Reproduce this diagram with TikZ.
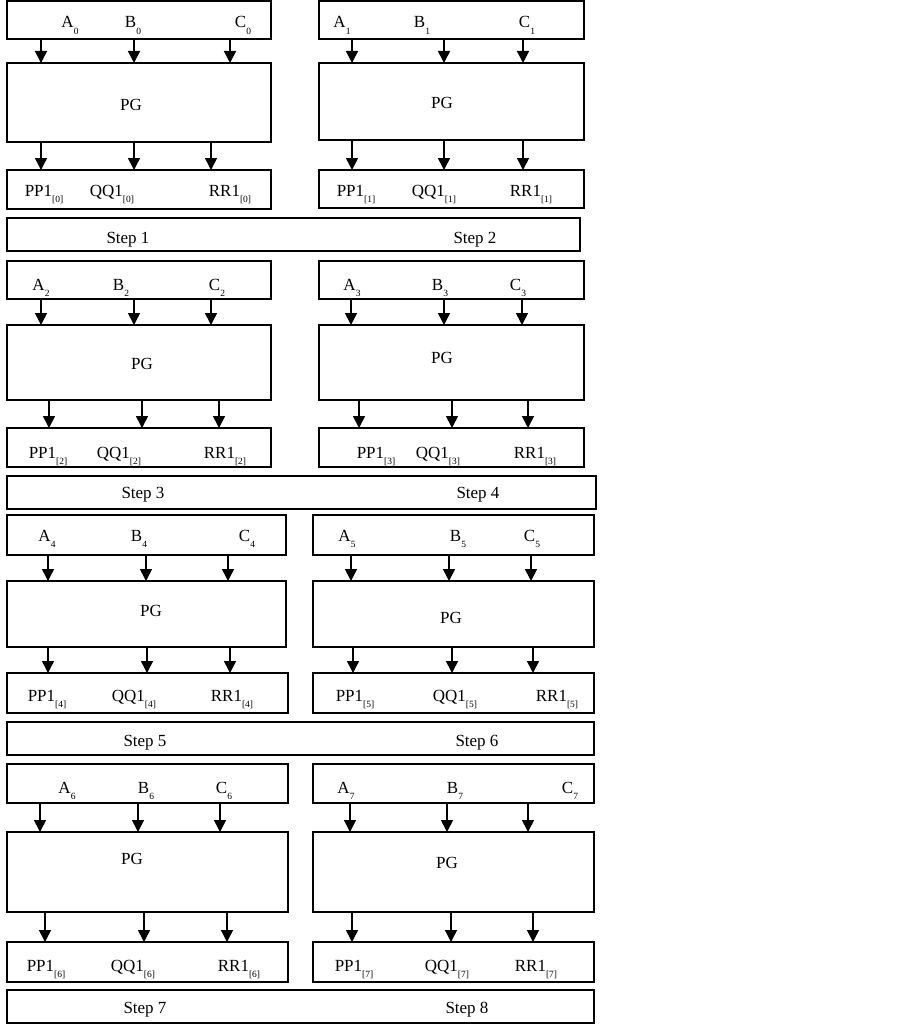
\documentclass[tikz,border=0pt]{standalone}
\usepackage{fontspec}
\setmainfont{Liberation Serif}
\usetikzlibrary{arrows.meta}
\newcommand\sbs[1]{\raisebox{-0.8ex}{\fontsize{9.5}{9.5}\selectfont #1}}
\newcommand\mkbox[5]{\node[bx, minimum width={(#4-#2)*1pt}, minimum height={(#5-#3)*1pt}, anchor=north west] (#1) at (#2,#3) {};}
\newcommand\arr[3]{\coordinate (ax) at (#3,0); \draw[ar] (#1.south -| ax) -- (#2.north -| ax);}
\tikzset{
  bx/.style={draw, line width=1.6pt, inner sep=0pt, outer sep=0pt, fill=none},
  lbl/.style={inner sep=0pt, font=\fontsize{17}{17}\selectfont, anchor=base},
  ar/.style={line width=1.6pt, -{Triangle[width=12pt,length=12pt]}}
}
\begin{document}
\begin{tikzpicture}[x=1pt,y=-1pt]
\fill[white] (0,0) rectangle (903,1025);
\useasboundingbox (0,0) rectangle (903,1025);
% ---------- Row 1 ----------
\mkbox{t0}{7}{1}{271}{39}
\mkbox{p0}{7}{63}{271}{142}
\mkbox{o0}{7}{170}{271}{209}
\node[lbl] (a0) at (70,28) {A\sbs{0}};
\node[lbl] (b0) at (133,28) {B\sbs{0}};
\node[lbl] (c0) at (243,28) {C\sbs{0}};
\node[lbl] (g0) at (131,110) {PG};
\node[lbl] (pp0) at (44,196) {PP1\sbs{[0]}};
\node[lbl] (qq0) at (112,196) {QQ1\sbs{[0]}};
\node[lbl] (rr0) at (230,196) {RR1\sbs{[0]}};
\arr{t0}{p0}{41}\arr{t0}{p0}{134}\arr{t0}{p0}{230}
\arr{p0}{o0}{41}\arr{p0}{o0}{134}\arr{p0}{o0}{211}
\mkbox{t1}{319}{1}{584}{39}
\mkbox{p1}{319}{63}{584}{140}
\mkbox{o1}{319}{170}{584}{208}
\node[lbl] (a1) at (342,28) {A\sbs{1}};
\node[lbl] (b1) at (422,28) {B\sbs{1}};
\node[lbl] (c1) at (527,28) {C\sbs{1}};
\node[lbl] (g1) at (442,108) {PG};
\node[lbl] (pp1) at (356,196) {PP1\sbs{[1]}};
\node[lbl] (qq1) at (434,196) {QQ1\sbs{[1]}};
\node[lbl] (rr1) at (531,196) {RR1\sbs{[1]}};
\arr{t1}{p1}{352}\arr{t1}{p1}{444}\arr{t1}{p1}{523}
\arr{p1}{o1}{352}\arr{p1}{o1}{444}\arr{p1}{o1}{523}
\mkbox{s12}{7}{218}{580}{251}
\node[lbl] (st1) at (128,243) {Step 1};
\node[lbl] (st2) at (475,243) {Step 2};
% ---------- Row 2 ----------
\mkbox{t2}{7}{261}{271}{299}
\mkbox{p2}{7}{325}{271}{400}
\mkbox{o2}{7}{428}{271}{467}
\node[lbl] (a2) at (41,290) {A\sbs{2}};
\node[lbl] (b2) at (121,290) {B\sbs{2}};
\node[lbl] (c2) at (217,290) {C\sbs{2}};
\node[lbl] (g2) at (142,369) {PG};
\node[lbl] (pp2) at (48,458) {PP1\sbs{[2]}};
\node[lbl] (qq2) at (119,458) {QQ1\sbs{[2]}};
\node[lbl] (rr2) at (225,458) {RR1\sbs{[2]}};
\arr{t2}{p2}{41}\arr{t2}{p2}{134}\arr{t2}{p2}{211}
\arr{p2}{o2}{49}\arr{p2}{o2}{142}\arr{p2}{o2}{219}
\mkbox{t3}{319}{261}{584}{299}
\mkbox{p3}{319}{325}{584}{400}
\mkbox{o3}{319}{428}{584}{467}
\node[lbl] (a3) at (352,290) {A\sbs{3}};
\node[lbl] (b3) at (440,290) {B\sbs{3}};
\node[lbl] (c3) at (518,290) {C\sbs{3}};
\node[lbl] (g3) at (442,363) {PG};
\node[lbl] (pp3) at (376,458) {PP1\sbs{[3]}};
\node[lbl] (qq3) at (438,458) {QQ1\sbs{[3]}};
\node[lbl] (rr3) at (535,458) {RR1\sbs{[3]}};
\arr{t3}{p3}{351}\arr{t3}{p3}{444}\arr{t3}{p3}{522}
\arr{p3}{o3}{359}\arr{p3}{o3}{452}\arr{p3}{o3}{528}
\mkbox{s34}{7}{476}{596}{509}
\node[lbl] (st3) at (143,498) {Step 3};
\node[lbl] (st4) at (478,498) {Step 4};
% ---------- Row 3 ----------
\mkbox{t4}{7}{515}{286}{555}
\mkbox{p4}{7}{581}{286}{647}
\mkbox{o4}{7}{673}{288}{713}
\node[lbl] (a4) at (47,541) {A\sbs{4}};
\node[lbl] (b4) at (139,541) {B\sbs{4}};
\node[lbl] (c4) at (247,541) {C\sbs{4}};
\node[lbl] (g4) at (151,616) {PG};
\node[lbl] (pp4) at (47,701) {PP1\sbs{[4]}};
\node[lbl] (qq4) at (134,701) {QQ1\sbs{[4]}};
\node[lbl] (rr4) at (232,701) {RR1\sbs{[4]}};
\arr{t4}{p4}{48}\arr{t4}{p4}{146}\arr{t4}{p4}{228}
\arr{p4}{o4}{48}\arr{p4}{o4}{147}\arr{p4}{o4}{230}
\mkbox{t5}{313}{515}{594}{555}
\mkbox{p5}{313}{581}{594}{647}
\mkbox{o5}{313}{673}{594}{713}
\node[lbl] (a5) at (347,541) {A\sbs{5}};
\node[lbl] (b5) at (458,541) {B\sbs{5}};
\node[lbl] (c5) at (532,541) {C\sbs{5}};
\node[lbl] (g5) at (451,623) {PG};
\node[lbl] (pp5) at (355,701) {PP1\sbs{[5]}};
\node[lbl] (qq5) at (455,701) {QQ1\sbs{[5]}};
\node[lbl] (rr5) at (557,701) {RR1\sbs{[5]}};
\arr{t5}{p5}{351}\arr{t5}{p5}{449}\arr{t5}{p5}{531}
\arr{p5}{o5}{353}\arr{p5}{o5}{452}\arr{p5}{o5}{533}
\mkbox{s56}{7}{722}{594}{755}
\node[lbl] (st5) at (145,746) {Step 5};
\node[lbl] (st6) at (477,746) {Step 6};
% ---------- Row 4 ----------
\mkbox{t6}{7}{764}{288}{803}
\mkbox{p6}{7}{832}{288}{912}
\mkbox{o6}{7}{942}{288}{982}
\node[lbl] (a6) at (67,793) {A\sbs{6}};
\node[lbl] (b6) at (146,793) {B\sbs{6}};
\node[lbl] (c6) at (224,793) {C\sbs{6}};
\node[lbl] (g6) at (132,864) {PG};
\node[lbl] (pp6) at (46,971) {PP1\sbs{[6]}};
\node[lbl] (qq6) at (133,971) {QQ1\sbs{[6]}};
\node[lbl] (rr6) at (239,971) {RR1\sbs{[6]}};
\arr{t6}{p6}{40}\arr{t6}{p6}{138}\arr{t6}{p6}{220}
\arr{p6}{o6}{45}\arr{p6}{o6}{144}\arr{p6}{o6}{227}
\mkbox{t7}{313}{764}{594}{803}
\mkbox{p7}{313}{832}{594}{912}
\mkbox{o7}{313}{942}{594}{982}
\node[lbl] (a7) at (346,793) {A\sbs{7}};
\node[lbl] (b7) at (455,793) {B\sbs{7}};
\node[lbl] (c7) at (570,793) {C\sbs{7}};
\node[lbl] (g7) at (447,868) {PG};
\node[lbl] (pp7) at (354,971) {PP1\sbs{[7]}};
\node[lbl] (qq7) at (447,971) {QQ1\sbs{[7]}};
\node[lbl] (rr7) at (536,971) {RR1\sbs{[7]}};
\arr{t7}{p7}{350}\arr{t7}{p7}{447}\arr{t7}{p7}{528}
\arr{p7}{o7}{352}\arr{p7}{o7}{451}\arr{p7}{o7}{533}
\mkbox{s78}{7}{990}{594}{1023}
\node[lbl] (st7) at (145,1013) {Step 7};
\node[lbl] (st8) at (467,1013) {Step 8};
\end{tikzpicture}
\end{document}
